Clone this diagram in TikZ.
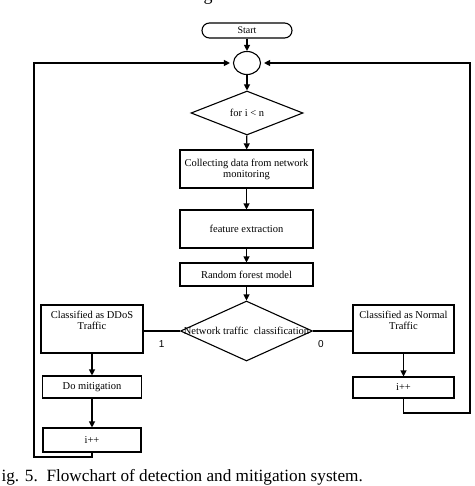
\documentclass[tikz,border=0pt]{standalone}
\usepackage{fontspec}
\setmainfont{Liberation Serif}
\newfontfamily\labfont{Liberation Sans}
\usetikzlibrary{shapes.geometric,arrows.meta}
\begin{document}
\begin{tikzpicture}[x=1pt,y=-1pt,line width=1.1pt,
  txt/.style={font=\fontsize{10.5}{11}\selectfont,align=center},
  box/.style={draw,rectangle,inner sep=0pt,txt},
  dia/.style={draw,diamond,inner sep=0pt,shape aspect=2.5},
  arr/.style={-{Triangle[length=6pt,width=6pt]}},
  lab/.style={font=\labfont\fontsize{10}{11}\selectfont,inner sep=0pt}]
\useasboundingbox (0,0) rectangle (474,486);
% top fragment
\node[anchor=base,inner sep=0pt,font=\fontsize{18}{18}\selectfont] (frag) at (208,0.5) {g};
% nodes
\node[draw,rounded corners=7.5pt,minimum width=90pt,minimum height=15pt,inner sep=0pt,font=\fontsize{10}{11}\selectfont] (start) at (247,30.5) {Start};
\node[draw,ellipse,minimum width=27pt,minimum height=23pt,inner sep=0pt] (circ) at (247,63) {};
\node[dia,minimum width=112pt,minimum height=44pt,label={[txt]center:for i {\textless} n}] (d1) at (247,113) {};
\node[box,minimum width=133pt,minimum height=38pt] (collect) at (246.5,169) {Collecting data from network\\monitoring};
\node[box,minimum width=133pt,minimum height=38pt] (feat) at (246.5,229) {feature extraction};
\node[box,minimum width=133pt,minimum height=23pt] (rf) at (246.5,274.5) {Random forest model};
\node[dia,minimum width=132pt,minimum height=60pt,label={[txt]center:Network traffic\ \ classification}] (d2) at (246.5,331) {};
\node[box,minimum width=102pt,minimum height=48pt,label={[txt,yshift=8.5pt]center:Classified as DDoS\\Traffic}] (ddos) at (92,329) {};
\node[box,minimum width=101pt,minimum height=48pt,label={[txt,yshift=8.5pt]center:Classified as Normal\\Traffic}] (normal) at (403.5,329) {};
\node[box,minimum width=99pt,minimum height=22pt] (mit) at (92,387) {Do mitigation};
\node[box,minimum width=98pt,minimum height=24pt] (inc1) at (92,440) {i++};
\node[box,minimum width=101pt,minimum height=21pt] (inc2) at (403.5,387.5) {i++};
\coordinate (lb) at (34,457);
\coordinate (rb) at (470,413);
% connectors
\draw[arr] (start) -- (circ);
\draw[arr] (circ) -- (d1);
\draw[arr] (d1) -- (collect);
\draw[arr] (collect) -- (feat);
\draw[arr] (feat) -- (rf);
\draw[arr] (rf) -- (d2);
\draw (d2.west) -- node[lab,pos=0.5,yshift=-13pt] (l1) {1} (d2.west -| ddos.east);
\draw (d2.east) -- node[lab,pos=0.2,yshift=-13pt] (l0) {0} (d2.east -| normal.west);
\draw[arr] (ddos) -- (mit);
\draw[arr] (mit) -- (inc1);
\draw[arr] (normal) -- (inc2);
\draw[arr,shorten >=3pt] (inc1.south) |- (lb) |- (circ.west);
\draw[arr,shorten >=3pt] (inc2.south) |- (rb) |- (circ.east);
% caption
\node[anchor=base west,inner sep=0pt,font=\fontsize{17.2}{18}\selectfont] (fig) at (1,481) {ig. 5.};
\node[anchor=base west,inner sep=0pt,font=\fontsize{17.2}{18}\selectfont] (cap) at (46,481) {Flowchart of detection and mitigation system.};
\end{tikzpicture}
\end{document}
